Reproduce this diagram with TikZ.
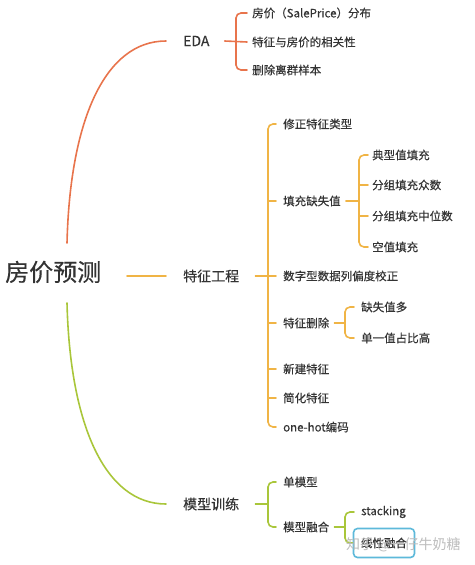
\documentclass[tikz,border=0pt]{standalone}
\usepackage{fontspec}
\setmainfont[FakeBold=0.35]{Noto Sans CJK SC}
\newfontfamily\wmfont{Noto Sans CJK SC}
\usetikzlibrary{calc}
\definecolor{txt}{HTML}{333333}
\definecolor{cA}{HTML}{E8744C}
\definecolor{cB}{HTML}{F0B445}
\definecolor{cC}{HTML}{A9C63A}
\definecolor{cBox}{HTML}{5DB9DA}
\definecolor{wm}{HTML}{BDBDBD}
\tikzset{
  item/.style={anchor=west, inner sep=0pt, text=txt, font=\fontsize{11.5}{13}\selectfont},
  branch/.style={anchor=west, inner sep=0pt, text=txt, font=\fontsize{14}{16}\selectfont},
  rootnode/.style={anchor=west, inner sep=0pt, text=txt, font=\fontsize{24}{28}\selectfont},
  link/.style={line width=1.6pt, line cap=round},
  brk/.style={link, rounded corners=5pt},
  selbox/.style={draw=cBox, line width=1.6pt, rounded corners=4pt, fill=white,
    minimum width=61pt, minimum height=29pt, inner sep=0pt, text=txt,
    font=\fontsize{11.5}{13}\selectfont},
  wmark/.style={anchor=west, inner sep=0pt, text=wm, font=\wmfont\fontsize{14}{16}\selectfont}
}
\begin{document}
\begin{tikzpicture}[x=1pt,y=-1pt]
\useasboundingbox (0,0) rectangle (474,565);

% root and branches
\node[rootnode] (root) at (5,272) {房价预测};
\node[branch] (eda) at (183,41) {EDA};
\node[branch] (fe) at (183,276) {特征工程};
\node[branch] (mt) at (183,504) {模型训练};

\coordinate (rup) at (67,243);
\coordinate (rdn) at (67,303);
\coordinate (rrt) at (127,276);
\coordinate (edain) at (166,41);
\coordinate (fein) at (166,276);
\coordinate (mtin) at (166,504);

\draw[link,cA] (rup) .. controls (70,120) and (105,41) .. (edain);
\draw[link,cB] (rrt) -- (fein);
\draw[link,cC] (rdn) .. controls (70,425) and (105,504) .. (mtin);

% EDA items
\node[item] (e1) at (252,13) {房价（SalePrice）分布};
\node[item] (e2) at (252,42) {特征与房价的相关性};
\node[item] (e3) at (252,70) {删除离群样本};
\draw[link,cA] ($(eda.east)+(15,0)$) -- ($(e2.west)+(-5,0)$);
\draw[brk,cA] ($(e1.west)+(-5,0)$) -- (236,13) -- (236,70) -- ($(e3.west)+(-5,0)$);

% feature engineering items
\node[item] (f1) at (283,124) {修正特征类型};
\node[item] (f2) at (283,201) {填充缺失值};
\node[item] (f3) at (283,276) {数字型数据列偏度校正};
\node[item] (f4) at (283,323) {特征删除};
\node[item] (f5) at (283,369) {新建特征};
\node[item] (f6) at (283,398) {简化特征};
\node[item] (f7) at (283,427) {one-hot编码};
\draw[link,cB] ($(fe.east)+(16,0)$) -- ($(f3.west)+(-7,0)$);
\draw[brk,cB] ($(f1.west)+(-7,0)$) -- (268,124) -- (268,427) -- ($(f7.west)+(-7,0)$);
\foreach \n in {f2,f4,f5,f6}
  \draw[link,cB] (268,0 |- \n.west) -- ($(\n.west)+(-7,0)$);

% fill missing values
\node[item] (g1) at (372,155) {典型值填充};
\node[item] (g2) at (372,185) {分组填充众数};
\node[item] (g3) at (372,216) {分组填充中位数};
\node[item] (g4) at (372,247) {空值填充};
\draw[link,cB] ($(f2.east)+(5,0)$) -- (359,201);
\draw[brk,cB] ($(g1.west)+(-4,0)$) -- (359,155) -- (359,247) -- ($(g4.west)+(-4,0)$);
\foreach \n in {g2,g3}
  \draw[link,cB] (359,0 |- \n.west) -- ($(\n.west)+(-4,0)$);

% feature deletion
\node[item] (h1) at (361,307) {缺失值多};
\node[item] (h2) at (361,338) {单一值占比高};
\draw[link,cB] ($(f4.east)+(5,0)$) -- (345,323);
\draw[brk,cB] ($(h1.west)+(-7,0)$) -- (345,307) -- (345,338) -- ($(h2.west)+(-7,0)$);

% model training
\node[item] (m1) at (283,482) {单模型};
\node[item] (m2) at (283,527) {模型融合};
\draw[link,cC] ($(mt.east)+(16,0)$) -- (268,504);
\draw[brk,cC] ($(m1.west)+(-7,0)$) -- (268,482) -- (268,527) -- ($(m2.west)+(-7,0)$);

\node[item] (s1) at (361,512) {stacking};
\node[selbox] (s2) at (384,543) {线性融合};
\draw[link,cC] ($(m2.east)+(5,0)$) -- (345,527);
\draw[brk,cC] ($(s1.west)+(-7,0)$) -- (345,512) -- (345,543) -- (s2.west);

% watermark
\node[wmark] (wmk) at (346,545) {知乎 @一仔牛奶糖};
\end{tikzpicture}
\end{document}
